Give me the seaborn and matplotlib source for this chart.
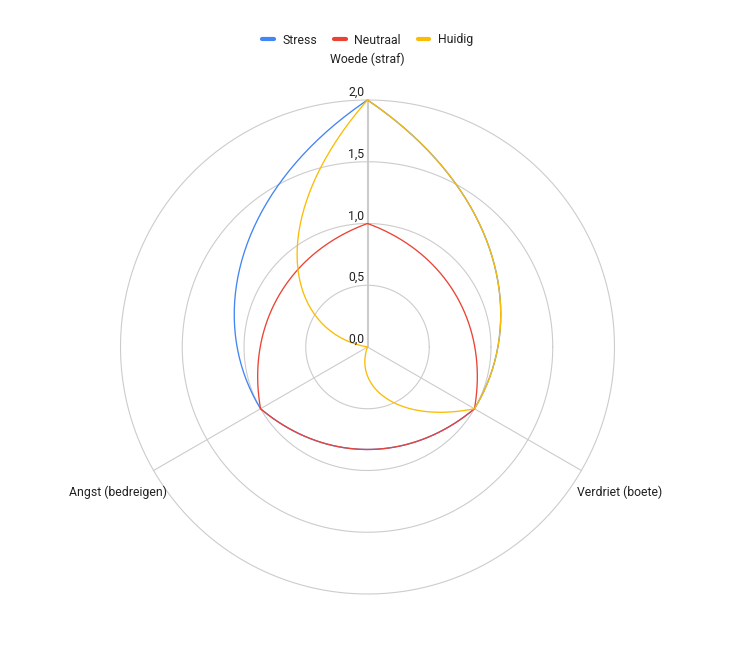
import numpy as np
import pandas as pd
import matplotlib
matplotlib.use('Agg')
import matplotlib.pyplot as plt
from matplotlib.lines import Line2D
import seaborn as sns

# data
categorieen = ['Woede (straf)', 'Verdriet (boete)', 'Angst (bedreigen)']
reeksen = ['Stress', 'Neutraal', 'Huidig']
stress = [2.0, 1.0, 1.0]
neutraal = [1.0, 1.0, 1.0]
huidig = [2.0, 1.0, 0.0]
ticks = [0.0, 0.5, 1.0, 1.5, 2.0]
tick_labels = ['0,0', '0,5', '1,0', '1,5', '2,0']
kleuren = ['#4285F4', '#EA4335', '#FBBC04']

GRID = '#cccccc'
TEXT = '#222222'
SCALE = 123.5          # pixels per unit
CX, CY = 367.5, 347    # centre in pixels
W, H = 735, 658


def polar_xy(angle, r):
    ''' angle clockwise from top (radians) -> x, y '''
    return r * np.sin(angle), r * np.cos(angle)


def smooth_radar(values, n=80):
    ''' Each segment is a cubic bezier whose control points sit at 1/3 and
        2/3 of the straight line between the two vertices in (angle, r). '''
    k = len(values)
    step = 2 * np.pi / k
    xs, ys = [], []
    t = np.linspace(0, 1, n)[:, None]
    for i in range(k):
        a0 = i * step
        r0, r1 = values[i], values[(i + 1) % k]
        pts = []
        for j in range(4):
            pts.append(polar_xy(a0 + step * j / 3, r0 + (r1 - r0) * j / 3))
        pts = np.array(pts)
        curve = ((1 - t) ** 3 * pts[0] + 3 * (1 - t) ** 2 * t * pts[1]
                 + 3 * (1 - t) * t ** 2 * pts[2] + t ** 3 * pts[3])
        xs.extend(curve[:, 0])
        ys.extend(curve[:, 1])
    return xs, ys


def main():
    sns.set_style('white')
    plt.rcParams['font.family'] = ['Roboto', 'DejaVu Sans']

    fig = plt.figure(figsize=(W / 100, H / 100), dpi=100)
    ax = fig.add_axes([0, 0, 1, 1])
    ax.set_xlim(-CX / SCALE, (W - CX) / SCALE)
    ax.set_ylim((CY - H) / SCALE, CY / SCALE)
    ax.axis('off')

    # grid circles and spokes
    rmax = ticks[-1]
    theta = np.linspace(0, 2 * np.pi, 400)
    for r in ticks[1:]:
        ax.plot(r * np.cos(theta), r * np.sin(theta), color=GRID, lw=0.8,
                zorder=1)
    step = 2 * np.pi / len(categorieen)
    for i in range(len(categorieen)):
        x, y = polar_xy(i * step, rmax)
        ax.plot([0, x], [0, y], color=GRID, lw=1.5 if i == 0 else 0.8,
                zorder=1)

    # series
    rows = []
    for name, vals in zip(reeksen, [stress, neutraal, huidig]):
        xs, ys = smooth_radar(vals)
        rows.append(pd.DataFrame({'x': xs, 'y': ys, 'reeks': name}))
    df = pd.concat(rows, ignore_index=True)
    sns.lineplot(data=df, x='x', y='y', hue='reeks', hue_order=reeksen,
                 palette=kleuren, sort=False, estimator=None, units='reeks',
                 lw=0.95, legend=False, ax=ax, zorder=3)

    # tick labels along the vertical axis
    for v, lab in zip(ticks, tick_labels):
        ax.text(-3 / SCALE, v + 4 / SCALE, lab, ha='right', va='baseline',
                fontsize=8.8, color=TEXT, zorder=4)

    # category labels
    ax.text(0, (CY - 59) / SCALE, categorieen[0], ha='center', va='center',
            fontsize=8.8, color=TEXT)
    ax.text((577 - CX) / SCALE, (CY - 492) / SCALE, categorieen[1],
            ha='left', va='center', fontsize=8.8, color=TEXT)
    ax.text((167 - CX) / SCALE, (CY - 492) / SCALE, categorieen[2],
            ha='right', va='center', fontsize=8.8, color=TEXT)

    handles = [Line2D([], [], color=c, lw=3) for c in kleuren]
    fig.legend(handles, reeksen, loc='center', ncol=3, frameon=False,
               bbox_to_anchor=(CX / W, 1 - 40 / H), fontsize=8.8,
               handlelength=0.95, handletextpad=0.7, columnspacing=1.4,
               labelcolor=TEXT)

    fig.savefig('out.png', dpi=100)


if __name__ == "__main__":
    main()
